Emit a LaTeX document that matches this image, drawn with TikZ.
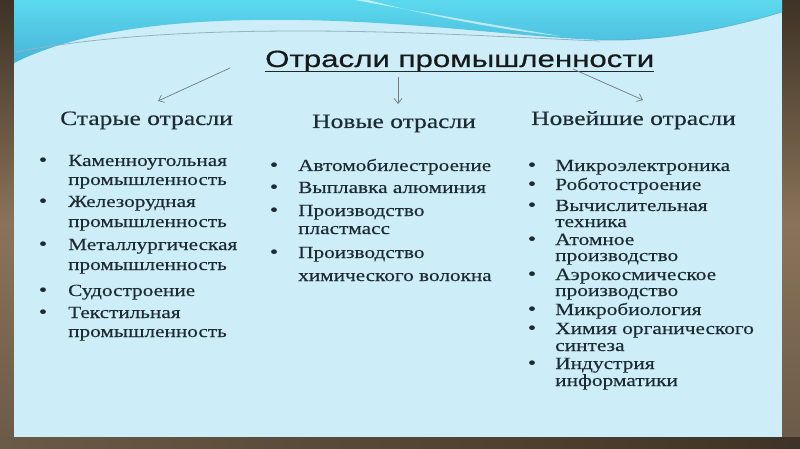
\documentclass[tikz,border=0pt]{standalone}
\usepackage{fontspec}
\setmainfont{Liberation Serif}[FakeStretch=1.25,FakeBold=0.35]
\newfontfamily\ttlfont{Liberation Sans}[FakeStretch=1.33,FakeBold=0.6]
\usetikzlibrary{arrows.meta}
\definecolor{frameA}{HTML}{3E3326}
\definecolor{frameB}{HTML}{8A7359}
\definecolor{frameC}{HTML}{6A5A48}
\definecolor{pale}{HTML}{CDEEF8}
\definecolor{cyanA}{HTML}{5CD9EE}
\definecolor{cyanB}{HTML}{47B4D9}
\definecolor{ink}{HTML}{1E2B33}
\definecolor{arr}{HTML}{6E7A80}
\definecolor{wline}{HTML}{8FB3C4}
\tikzset{
  li/.style={anchor=base west, inner sep=0pt, font=\fontsize{17}{20}\selectfont, text=ink},
  lir/.style={anchor=base west, inner sep=0pt, font=\fontsize{17.1}{20}\selectfont, text=ink},
  bul/.style={anchor=base, inner sep=0pt, font=\fontsize{19}{20}\selectfont, text=ink},
  hd/.style={anchor=base west, inner sep=0pt, font=\fontsize{20.4}{24}\selectfont, text=ink},
  link/.style={draw=arr, line width=0.7pt, -{Straight Barb[length=5pt,width=8pt]}},
}
\begin{document}
\begin{tikzpicture}[x=1pt,y=-1pt]
\useasboundingbox (0,0) rectangle (800,449);
% frame
\shade[top color=frameA, bottom color=frameC, middle color=frameB] (0,0) rectangle (800,449);
\shade[left color=frameC, right color=frameA] (0,437) rectangle (800,449);
% slide
\fill[pale] (14,0) rectangle (782,437);
% top wave
\shade[top color=cyanA, bottom color=cyanB]
  (14,0) -- (782,0) -- (782,12)
  .. controls (740,25) and (670,42) .. (600,40)
  .. controls (520,37) and (420,22) .. (300,20)
  .. controls (180,18) and (80,30) .. (14,63) -- cycle;
% white highlight swoosh
\fill[white, opacity=0.6]
  (355,0) .. controls (420,12) and (500,26) .. (560,36)
  .. controls (500,30) and (430,16) .. (368,0) -- cycle;
% thin line across the wave
\draw[wline, line width=0.8pt]
  (16,52) .. controls (90,38) and (180,31) .. (300,31)
  .. controls (420,31) and (520,38) .. (600,41);
\draw[cyanB!80!black, line width=0.6pt, opacity=0.5]
  (600,40) .. controls (670,42) and (740,25) .. (782,12);

% title
\node[anchor=base west, inner sep=0pt, font=\ttlfont\fontsize{23.5}{28}\selectfont, text=black!90]
  (title) at (265,67) {Отрасли промышленности};
\draw[black!85, line width=1.5pt] (title.base west) ++(0,4.5) coordinate (ulA) -- (title.base east |- ulA);

% headings
\node[hd] (old) at (60,125) {Старые отрасли};
\node[hd] (new) at (312,128) {Новые отрасли};
\node[hd] (newest) at (531,125) {Новейшие отрасли};

% arrows
\coordinate (a1s) at (230,68); \coordinate (a1e) at (158,101);
\coordinate (a2s) at (398,77); \coordinate (a2e) at (398,104);
\coordinate (a3s) at (573,69); \coordinate (a3e) at (643,100);
\draw[link] (a1s) -- (a1e);
\draw[link] (a2s) -- (a2e);
\draw[link] (a3s) -- (a3e);

% left column
\foreach \y/\n in {166/b1,207/b2,250/b3,296/b4,318/b5}
  \node[bul] (L\n) at (43,\y) {•};
\node[li] (l1a) at (68,166) {Каменноугольная};
\node[li] (l1b) at (68,185) {промышленность};
\node[li] (l2a) at (68,207) {Железорудная};
\node[li] (l2b) at (68,227) {промышленность};
\node[li] (l3a) at (68,250) {Металлургическая};
\node[li] (l3b) at (68,270) {промышленность};
\node[li] (l4a) at (68,296) {Судостроение};
\node[li] (l5a) at (68,318) {Текстильная};
\node[li] (l5b) at (68,337) {промышленность};

% middle column
\foreach \y/\n in {171/b1,193/b2,216/b3,258/b4}
  \node[bul] (M\n) at (274,\y) {•};
\node[li] (m1a) at (298,171) {Автомобилестроение};
\node[li] (m2a) at (298,193) {Выплавка алюминия};
\node[li] (m3a) at (298,216) {Производство};
\node[li] (m3b) at (298,234) {пластмасс};
\node[li] (m4a) at (298,258) {Производство};
\node[li] (m4b) at (298,281) {химического волокна};

% right column
\foreach \y/\n in {171/b1,190/b2,211/b3,245/b4,280/b5,315/b6,334/b7,369/b8}
  \node[bul] (R\n) at (532,\y) {•};
\node[lir] (r1a) at (555,171) {Микроэлектроника};
\node[lir] (r2a) at (555,190) {Роботостроение};
\node[lir] (r3a) at (555,211) {Вычислительная};
\node[lir] (r3b) at (555,227) {техника};
\node[lir] (r4a) at (555,245) {Атомное};
\node[lir] (r4b) at (555,261) {производство};
\node[lir] (r5a) at (555,280) {Аэрокосмическое};
\node[lir] (r5b) at (555,296) {производство};
\node[lir] (r6a) at (555,315) {Микробиология};
\node[lir] (r7a) at (555,334) {Химия органического};
\node[lir] (r7b) at (555,351) {синтеза};
\node[lir] (r8a) at (555,369) {Индустрия};
\node[lir] (r8b) at (555,386) {информатики};
\end{tikzpicture}
\end{document}
